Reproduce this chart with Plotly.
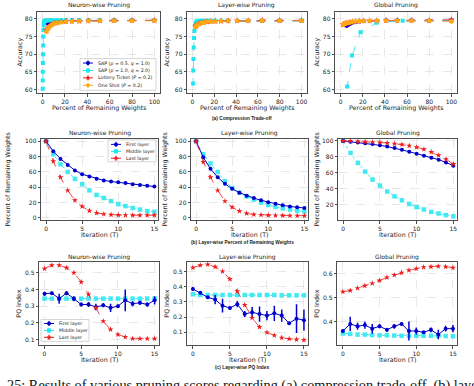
import plotly.graph_objects as go

W, H = 474, 386

# ---------------- DATA ----------------
# Row 1: Accuracy vs percent of remaining weights
nw_sap1_x = [100, 80, 64, 51.2, 41, 32.8, 26.2, 21, 16.8, 13.4, 10.7, 8.6, 6.9, 5.5, 4.4]
nw_sap1_y = [79.6, 79.6, 79.6, 79.6, 79.6, 79.6, 79.6, 79.6, 79.5, 79.5, 79.4, 79.3, 79.1, 78.9, 78.7]
nw_sap2_x = [100, 80, 64, 51.2, 41, 32.8, 26.2, 21, 16.8, 13.4, 10.7, 8.6, 6.9, 5.5, 4.4, 3.5, 2.8, 2.3,
             1.8, 1.4, 1.15, 0.92, 0.74, 0.59, 0.47, 0.38, 0.30, 0.24, 0.19, 0.15]
nw_sap2_y = [79.6, 79.6, 79.6, 79.6, 79.6, 79.6, 79.6, 79.6, 79.6, 79.6, 79.6, 79.6, 79.6, 79.6, 79.6, 79.6,
             79.5, 79.5, 79.4, 79.2, 78.9, 78.2, 76.9, 75.0, 72.5, 70.0, 67.5, 65.0, 62.5, 60.2]
nw_lt_x = [100, 80, 64, 51.2, 41, 32.8, 26.2, 21, 16.8, 13.4, 10.7, 8.6, 6.9, 5.5, 4.4, 3.5]
nw_lt_y = [79.6, 79.6, 79.6, 79.5, 79.5, 79.4, 79.4, 79.3, 79.2, 79.0, 78.8, 78.5, 78.2, 77.8, 77.3, 76.8]
nw_os_x = [100, 80, 64, 51.2, 41, 32.8, 26.2, 21, 16.8, 13.4, 10.7, 8.6, 6.9, 5.5, 4.4, 3.5]
nw_os_y = [79.5, 79.5, 79.5, 79.5, 79.4, 79.4, 79.3, 79.2, 79.1, 78.9, 78.7, 78.4, 78.0, 77.5, 77.0, 76.4]

lw_sap1_x = [100, 80, 64, 51.2, 41, 32.8, 26.2, 21, 16.8, 13.4, 10.7, 8.6]
lw_sap1_y = [79.5, 79.5, 79.5, 79.5, 79.5, 79.5, 79.5, 79.4, 79.4, 79.3, 79.2, 79.0]
lw_sap2_x = [100, 80, 64, 51.2, 41, 32.8, 26.2, 21, 16.8, 13.4, 10.7, 8.6, 6.9, 5.5, 4.4, 3.5, 2.8, 2.3,
             1.8, 1.4, 1.15, 0.92, 0.74, 0.59]
lw_sap2_y = [79.5, 79.5, 79.5, 79.5, 79.5, 79.5, 79.5, 79.5, 79.5, 79.5, 79.5, 79.5, 79.5, 79.5, 79.4, 79.2,
             78.8, 78.0, 76.6, 74.6, 71.9, 68.6, 65.4, 61.7]
lw_lt_x = [100, 80, 64, 51.2, 41, 32.8, 26.2, 21, 16.8, 13.4, 10.7, 8.6, 6.9, 5.5, 4.4, 3.5, 2.8]
lw_lt_y = [79.6, 79.6, 79.6, 79.5, 79.5, 79.5, 79.4, 79.4, 79.3, 79.2, 79.1, 79.0, 78.8, 78.6, 78.4, 78.1, 77.8]
lw_os_x = [100, 80, 64, 51.2, 41, 32.8, 26.2, 21, 16.8, 13.4, 10.7, 8.6, 6.9, 5.5, 4.4, 3.5, 2.8]
lw_os_y = [79.5, 79.5, 79.5, 79.5, 79.5, 79.4, 79.4, 79.3, 79.3, 79.2, 79.0, 78.9, 78.7, 78.5, 78.3, 78.0, 77.7]

gw_sap1_x = [100, 80, 64, 51.2, 41, 32.8, 26.2, 21, 16.8, 13.4, 10.7, 8.6, 6.9, 5.5]
gw_sap1_y = [79.5, 79.5, 79.6, 79.6, 79.6, 79.5, 79.5, 79.4, 79.3, 79.1, 78.9, 78.6, 78.3, 78.0]
gw_sap2_x = [100, 56, 32.5, 18, 10.3, 6.0]
gw_sap2_y = [79.6, 79.5, 78.9, 76.2, 69.6, 60.8]
gw_lt_x = [100, 80, 64, 51.2, 41, 32.8, 26.2, 21, 16.8, 13.4, 10.7, 8.6, 6.9, 5.5, 4.4, 3.5, 2.8, 2.2]
gw_lt_y = [79.8, 79.6, 79.6, 79.6, 79.6, 79.5, 79.5, 79.5, 79.4, 79.3, 79.2, 79.1, 78.9, 78.8, 78.7, 78.6, 78.5, 78.4]
gw_os_x = [100, 80, 64, 51.2, 41, 32.8, 26.2, 21, 16.8, 13.4, 10.7, 8.6, 6.9, 5.5, 4.4, 3.5, 2.8, 2.2]
gw_os_y = [79.3, 79.5, 79.5, 79.5, 79.5, 79.5, 79.5, 79.4, 79.4, 79.3, 79.2, 79.0, 78.9, 78.8, 78.7, 78.6, 78.5, 78.4]

# Row 2 / Row 3: iterations
iters = [0, 1, 2, 3, 4, 5, 6, 7, 8, 9, 10, 11, 12, 13, 14, 15]

nw_rw_first = [100, 87, 77, 69, 62, 57, 54, 51, 49, 47.5, 46.5, 45.5, 44, 43, 42, 41]
nw_rw_mid = [100, 83, 70, 60, 51, 44, 36, 30, 26, 22, 18, 15.5, 13, 11, 9, 8]
nw_rw_last = [100, 74, 53, 36, 23, 15, 9.5, 6.5, 5, 4.2, 3.8, 3.6, 3.5, 3.5, 3.5, 3.5]

lw_rw_first = [100, 79, 64, 53, 44.5, 38, 33, 29, 26, 23, 20.5, 18.5, 16.5, 15, 14, 13]
lw_rw_mid = [100, 83, 71, 60, 48, 39, 33, 28, 24, 20, 17, 14.5, 12.5, 11, 9.5, 8.5]
lw_rw_last = [100, 73, 53, 36, 22, 14, 9, 6, 4.5, 4, 3.5, 3.3, 3.2, 3.1, 3, 3]

gw_rw_first = [100, 99, 98, 97, 96, 94.5, 93, 91, 89, 86.5, 84, 81.5, 79, 76.5, 73, 69]
gw_rw_mid = [100, 85, 72.5, 61.5, 51.5, 44, 36.5, 30.5, 25.5, 21, 17, 14, 11, 9, 7, 5.5]
gw_rw_last = [100, 99.7, 99.3, 99, 98.5, 98, 97.5, 96.5, 95.5, 94, 92, 89.5, 86, 82, 77, 71]

nw_pq_first = [0.375, 0.378, 0.345, 0.378, 0.345, 0.31, 0.31, 0.295, 0.305, 0.29, 0.30, 0.335, 0.315, 0.32, 0.31, 0.335]
nw_pq_first_err = [0.012, 0.01, 0.03, 0.012, 0.015, 0.01, 0.015, 0.02, 0.012, 0.025, 0.01, 0.065, 0.015, 0.012, 0.012, 0.025]
nw_pq_mid = [0.345, 0.345, 0.345, 0.345, 0.345, 0.345, 0.345, 0.345, 0.345, 0.345, 0.345, 0.345, 0.345, 0.345, 0.345, 0.345]
nw_pq_last = [0.525, 0.545, 0.545, 0.53, 0.50, 0.445, 0.37, 0.29, 0.21, 0.16, 0.13, 0.115, 0.105, 0.105, 0.105, 0.105]

lw_pq_first = [0.385, 0.36, 0.33, 0.315, 0.275, 0.26, 0.285, 0.22, 0.232, 0.22, 0.21, 0.225, 0.21, 0.16, 0.19, 0.18]
lw_pq_first_err = [0.01, 0.01, 0.008, 0.03, 0.045, 0.01, 0.02, 0.02, 0.035, 0.05, 0.03, 0.05, 0.04, 0.01, 0.095, 0.07]
lw_pq_mid = [0.35, 0.345, 0.345, 0.345, 0.345, 0.345, 0.345, 0.345, 0.345, 0.345, 0.345, 0.345, 0.343, 0.343, 0.343, 0.343]
lw_pq_last = [0.525, 0.54, 0.545, 0.53, 0.50, 0.45, 0.37, 0.28, 0.195, 0.135, 0.10, 0.08, 0.065, 0.057, 0.053, 0.05]

gw_pq_first = [0.36, 0.39, 0.38, 0.385, 0.37, 0.38, 0.365, 0.38, 0.39, 0.36, 0.36, 0.355, 0.365, 0.345, 0.37, 0.37]
gw_pq_first_err = [0.005, 0.03, 0.015, 0.015, 0.02, 0.008, 0.008, 0.01, 0.005, 0.04, 0.015, 0.005, 0.01, 0.02, 0.012, 0.015]
gw_pq_mid = [0.35, 0.348, 0.345, 0.345, 0.343, 0.342, 0.342, 0.341, 0.34, 0.34, 0.34, 0.34, 0.34, 0.34, 0.339, 0.338]
gw_pq_last = [0.525, 0.53, 0.54, 0.55, 0.56, 0.572, 0.585, 0.595, 0.605, 0.615, 0.622, 0.628, 0.63, 0.632, 0.63, 0.626]

panel_titles = ["Neuron-wise Pruning", "Layer-wise Pruning", "Global Pruning"]
legend1_labels = ["SAP (<i>p</i> = 0.5, <i>q</i> = 1.0)", "SAP (<i>p</i> = 1.0, <i>q</i> = 2.0)",
                  "Lottery Ticket (<i>P</i> = 0.2)", "One Shot (<i>P</i> = 0.2)"]
legend2_labels = ["First layer", "Middle layer", "Last layer"]
captions = ["(a) Compression Trade-off", "(b) Layer-wise Percent of Remaining Weights", "(c) Layer-wise PQ Index"]
footer = "25: Results of various pruning scores regarding (a) compression trade-off, (b) layer-wise"

# ---------------- STYLE ----------------
BLUE = '#0000cd'
CYAN = '#22e6f2'
RED = '#ee1c1c'
ORANGE = '#ffa812'
FONT = 'DejaVu Sans'
AX = '#222222'

fig = go.Figure()

# panel frames in pixels: (x0, x1, ytop, ybottom)
frames = {
    1: (37, 160, 10, 92), 2: (187, 307, 10, 92), 3: (335, 457, 10, 92),
    4: (41, 158, 138, 220), 5: (191, 308, 138, 220), 6: (338, 457, 138, 220),
    7: (39, 159, 262, 346), 8: (187, 308, 262, 346), 9: (337, 457, 262, 346),
}
xranges = {1: [-5, 105], 2: [-5, 105], 3: [-5, 105],
           4: [-0.7, 15.5], 5: [-0.7, 15.5], 6: [-0.7, 15.5],
           7: [-0.75, 15.6], 8: [-0.8, 15.55], 9: [-0.8, 15.55]}
yranges = {1: [58.9, 82], 2: [58.9, 82], 3: [58.9, 82],
           4: [-3, 103], 5: [-3, 103], 6: [0.5, 102.5],
           7: [0.065, 0.565], 8: [0.015, 0.562], 9: [0.30, 0.65]}
xticks = {i: [0, 20, 40, 60, 80, 100] for i in (1, 2, 3)}
xticks.update({i: [0, 5, 10, 15] for i in (4, 5, 6, 7, 8, 9)})
yticks = {1: [60, 65, 70, 75, 80], 2: [60, 65, 70, 75, 80], 3: [60, 65, 70, 75, 80],
          4: [0, 20, 40, 60, 80, 100], 5: [0, 20, 40, 60, 80, 100], 6: [20, 40, 60, 80, 100],
          7: [0.1, 0.2, 0.3, 0.4, 0.5], 8: [0.1, 0.2, 0.3, 0.4, 0.5], 9: [0.4, 0.5, 0.6]}
ytickfmt = {7: '.1f', 8: '.1f', 9: '.1f'}

layout = {}
for i, (x0, x1, yt, yb) in frames.items():
    sfx = '' if i == 1 else str(i)
    common = dict(showline=True, mirror=True, linecolor=AX, linewidth=0.8,
                  ticks='outside', ticklen=2.5, tickwidth=0.8, tickcolor=AX,
                  showgrid=True, gridcolor='#d8d8d8', gridwidth=0.6, griddash='dash',
                  zeroline=False, tickfont=dict(family=FONT, size=6, color=AX), fixedrange=True)
    layout['xaxis' + sfx] = dict(common, domain=[x0 / W, x1 / W], range=xranges[i],
                                 tickvals=xticks[i], anchor='y' + sfx)
    layout['yaxis' + sfx] = dict(common, domain=[1 - yb / H, 1 - yt / H], range=yranges[i],
                                 tickvals=yticks[i], anchor='x' + sfx,
                                 tickformat=ytickfmt.get(i, ''))
# overlay axis in pixel units for legends
layout['xaxis10'] = dict(domain=[0, 1], range=[0, W], visible=False, anchor='y10', fixedrange=True)
layout['yaxis10'] = dict(domain=[0, 1], range=[H, 0], visible=False, anchor='x10', fixedrange=True)


def ax(i):
    sfx = '' if i == 1 else str(i)
    return dict(xaxis='x' + sfx, yaxis='y' + sfx)


def add(i, x, y, color, symbol, size, dash='solid', width=1.0, err=None, opacity=1.0, errw=1.2):
    kw = {}
    if err is not None:
        kw['error_y'] = dict(type='data', array=err, visible=True, color=color, thickness=errw, width=0)
    fig.add_trace(go.Scatter(x=x, y=y, mode='lines+markers',
                             line=dict(color=color, width=width, dash=dash),
                             marker=dict(color=color, symbol=symbol, size=size, line=dict(width=0)),
                             opacity=opacity, showlegend=False, hoverinfo='skip', cliponaxis=True,
                             **kw, **ax(i)))


# Row 1
for i, (s1x, s1y, s2x, s2y, ltx, lty, osx, osy) in zip(
        (1, 2, 3),
        [(nw_sap1_x, nw_sap1_y, nw_sap2_x, nw_sap2_y, nw_lt_x, nw_lt_y, nw_os_x, nw_os_y),
         (lw_sap1_x, lw_sap1_y, lw_sap2_x, lw_sap2_y, lw_lt_x, lw_lt_y, lw_os_x, lw_os_y),
         (gw_sap1_x, gw_sap1_y, gw_sap2_x, gw_sap2_y, gw_lt_x, gw_lt_y, gw_os_x, gw_os_y)]):
    add(i, s1x, s1y, BLUE, 'circle', 4, dash='dash', width=0.8)
    add(i, s2x, s2y, CYAN, 'square', 4, dash='dash', width=0.8)
    add(i, ltx, lty, RED, 'star', 5, dash='dash', width=0.8)
    add(i, osx, osy, ORANGE, 'hexagon', 5, dash='dash', width=0.8)

# Row 2
for i, (f, m, l) in zip((4, 5, 6), [(nw_rw_first, nw_rw_mid, nw_rw_last),
                                    (lw_rw_first, lw_rw_mid, lw_rw_last),
                                    (gw_rw_first, gw_rw_mid, gw_rw_last)]):
    add(i, iters, m, CYAN, 'square', 4.5, dash='dot', width=1.0, opacity=0.85)
    add(i, iters, f, BLUE, 'circle', 4, dash='solid', width=1.0)
    add(i, iters, l, RED, 'star', 4.5, dash='dash', width=0.8)

# Row 3
for i, (f, fe, m, l) in zip((7, 8, 9), [(nw_pq_first, nw_pq_first_err, nw_pq_mid, nw_pq_last),
                                        (lw_pq_first, lw_pq_first_err, lw_pq_mid, lw_pq_last),
                                        (gw_pq_first, gw_pq_first_err, gw_pq_mid, gw_pq_last)]):
    add(i, iters, m, CYAN, 'square', 4.5, dash='dash', width=1.0, opacity=0.85)
    add(i, iters, f, BLUE, 'circle', 4, dash='solid', width=1.0, err=fe, errw=1.5)
    add(i, iters, l, RED, 'star', 4.5, dash='dash', width=0.8)

annotations = []


def legend(box, sx0, sx1, tx, rows, entries):
    x0, y0, x1, y1 = box
    fig.add_trace(go.Scatter(x=[x0, x1, x1, x0, x0], y=[y0, y0, y1, y1, y0], mode='lines',
                             fill='toself', fillcolor='rgba(255,255,255,0.9)',
                             line=dict(color='#cccccc', width=0.8), showlegend=False,
                             hoverinfo='skip', xaxis='x10', yaxis='y10'))
    for (label, color, symbol), y in zip(entries, rows):
        xc = (sx0 + sx1) / 2
        fig.add_trace(go.Scatter(x=[sx0, sx1], y=[y, y], mode='lines', line=dict(color=color, width=1),
                                 showlegend=False, hoverinfo='skip', xaxis='x10', yaxis='y10'))
        fig.add_trace(go.Scatter(x=[xc], y=[y], mode='markers',
                                 marker=dict(color=color, symbol=symbol, size=4, line=dict(width=0)),
                                 error_y=dict(type='constant', value=2.6, width=0, color=color, thickness=1),
                                 showlegend=False, hoverinfo='skip', xaxis='x10', yaxis='y10'))
        annotations.append(dict(x=tx, y=y, xref='x10', yref='y10', text=label, showarrow=False,
                                xanchor='left', yanchor='middle',
                                font=dict(family=FONT, size=4.7, color=AX)))


legend((80, 57, 156, 89), 83, 93, 96, [61.5, 69, 76.5, 84],
       [(legend1_labels[0], BLUE, 'circle'), (legend1_labels[1], CYAN, 'square'),
        (legend1_labels[2], RED, 'star'), (legend1_labels[3], ORANGE, 'hexagon')])
legend((108, 139, 156, 161), 111, 121, 124, [143.5, 150.5, 157.5],
       [(legend2_labels[0], BLUE, 'circle'), (legend2_labels[1], CYAN, 'square'),
        (legend2_labels[2], RED, 'star')])
legend((41, 320, 89, 342), 44, 54, 57, [324, 331, 338],
       [(legend2_labels[0], BLUE, 'circle'), (legend2_labels[1], CYAN, 'square'),
        (legend2_labels[2], RED, 'star')])

# titles, axis labels, captions
title_y = [3, 132, 257]
xlabel_y = [107, 234, 360]
ylabel_x = [[20, 167, 317], [8, 165, 317], [19, 167, 317]]
for r in range(3):
    for c in range(3):
        i = r * 3 + c + 1
        x0, x1, yt, yb = frames[i]
        annotations.append(dict(x=(x0 + x1) / 2 / W, y=1 - title_y[r] / H, xref='paper', yref='paper',
                                text=panel_titles[c], showarrow=False, xanchor='center', yanchor='middle',
                                font=dict(family=FONT, size=6, color=AX)))
        xl = 'Percent of Remaining Weights' if r == 0 else 'Iteration (T)'
        annotations.append(dict(x=(x0 + x1) / 2 / W, y=1 - xlabel_y[r] / H, xref='paper', yref='paper',
                                text=xl, showarrow=False, xanchor='center', yanchor='middle',
                                font=dict(family=FONT, size=6.3, color=AX)))
        yl = ['Accuracy', 'Percent of Remaining Weights', 'PQ Index'][r]
        annotations.append(dict(x=ylabel_x[r][c] / W, y=1 - (yt + yb) / 2 / H, xref='paper', yref='paper',
                                text=yl, showarrow=False, xanchor='center', yanchor='middle', textangle=-90,
                                font=dict(family=FONT, size=6.3, color=AX)))

for cap, yy in zip(captions, [117, 242, 368]):
    annotations.append(dict(x=242 / W, y=1 - yy / H, xref='paper', yref='paper', text='<b>' + cap + '</b>',
                            showarrow=False, xanchor='center', yanchor='middle',
                            font=dict(family='Liberation Sans', size=4.8, color=AX)))

annotations.append(dict(x=5 / W, y=1 - 376 / H, xref='paper', yref='paper', text=footer, showarrow=False,
                        xanchor='left', yanchor='top',
                        font=dict(family='Liberation Serif', size=14.3, color='#111111')))

fig.update_layout(width=W, height=H, margin=dict(l=0, r=0, t=0, b=0),
                  paper_bgcolor='white', plot_bgcolor='rgba(0,0,0,0)',
                  showlegend=False, annotations=annotations, **layout)

fig.write_html("out.html", config={'displayModeBar': False, 'staticPlot': True},
               post_script="document.body.style.margin='0px';document.body.style.overflow='hidden';")
